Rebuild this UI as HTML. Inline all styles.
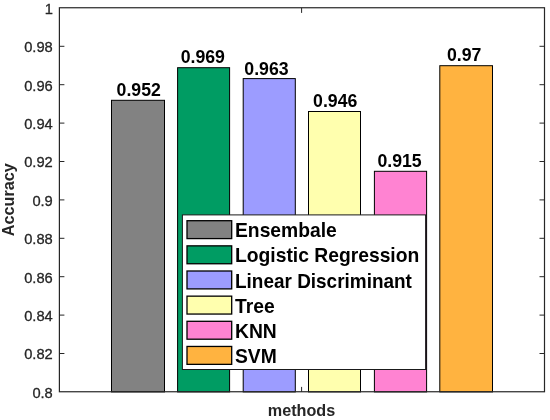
<!DOCTYPE html><html><head><meta charset="utf-8"><title>Accuracy</title>
<style>html,body{margin:0;padding:0;background:#fff}svg{display:block}text{font-family:"Liberation Sans",Arial,Helvetica,sans-serif}.tk{font-size:14.7px;fill:#262626;stroke:#262626;stroke-width:.3px}.bl{font-size:17.7px;font-weight:bold;fill:#000}.lg{font-size:19.3px;font-weight:bold;fill:#000}.ax{font-size:16.2px;font-weight:bold;fill:#262626}</style></head><body>
<svg width="550" height="420" viewBox="0 0 550 420">
<rect width="550" height="420" fill="#fff"/>
<rect x="111.5" y="100.30" width="53.0" height="291.60" fill="#828282" stroke="#000" stroke-width="1"/>
<text class="bl" x="116.6" y="95.7">0.952</text>
<rect x="177.6" y="67.70" width="52.0" height="324.20" fill="#009c63" stroke="#000" stroke-width="1"/>
<text class="bl" x="180.7" y="63.2">0.969</text>
<rect x="243.2" y="78.60" width="52.1" height="313.30" fill="#9c9cff" stroke="#000" stroke-width="1"/>
<text class="bl" x="244.3" y="74.7">0.963</text>
<rect x="308.5" y="111.50" width="52.0" height="280.40" fill="#ffffae" stroke="#000" stroke-width="1"/>
<text class="bl" x="313.1" y="107.0">0.946</text>
<rect x="374.4" y="171.30" width="52.2" height="220.60" fill="#ff83d2" stroke="#000" stroke-width="1"/>
<text class="bl" x="377.4" y="166.8">0.915</text>
<rect x="439.8" y="65.70" width="52.7" height="326.20" fill="#ffb340" stroke="#000" stroke-width="1"/>
<text class="bl" x="447.0" y="61.3">0.97</text>
<rect x="59.4" y="7.75" width="485.1" height="384" fill="none" stroke="#262626" stroke-width="1.2"/>
<text class="tk" x="52.8" y="397.8" text-anchor="end">0.8</text>
<path d="M59.4 353.50h5M544.5 353.50h-5" stroke="#262626" stroke-width="1" fill="none"/>
<text class="tk" x="52.8" y="359.4" text-anchor="end">0.82</text>
<path d="M59.4 315.10h5M544.5 315.10h-5" stroke="#262626" stroke-width="1" fill="none"/>
<text class="tk" x="52.8" y="321.0" text-anchor="end">0.84</text>
<path d="M59.4 276.70h5M544.5 276.70h-5" stroke="#262626" stroke-width="1" fill="none"/>
<text class="tk" x="52.8" y="282.6" text-anchor="end">0.86</text>
<path d="M59.4 238.30h5M544.5 238.30h-5" stroke="#262626" stroke-width="1" fill="none"/>
<text class="tk" x="52.8" y="244.2" text-anchor="end">0.88</text>
<path d="M59.4 199.90h5M544.5 199.90h-5" stroke="#262626" stroke-width="1" fill="none"/>
<text class="tk" x="52.8" y="205.8" text-anchor="end">0.9</text>
<path d="M59.4 161.50h5M544.5 161.50h-5" stroke="#262626" stroke-width="1" fill="none"/>
<text class="tk" x="52.8" y="167.4" text-anchor="end">0.92</text>
<path d="M59.4 123.10h5M544.5 123.10h-5" stroke="#262626" stroke-width="1" fill="none"/>
<text class="tk" x="52.8" y="129.0" text-anchor="end">0.94</text>
<path d="M59.4 84.70h5M544.5 84.70h-5" stroke="#262626" stroke-width="1" fill="none"/>
<text class="tk" x="52.8" y="90.6" text-anchor="end">0.96</text>
<path d="M59.4 46.30h5M544.5 46.30h-5" stroke="#262626" stroke-width="1" fill="none"/>
<text class="tk" x="52.8" y="52.2" text-anchor="end">0.98</text>
<text class="tk" x="52.8" y="13.8" text-anchor="end">1</text>
<path d="M301.6 391.9v-5M301.6 7.9v5" stroke="#262626" stroke-width="1" fill="none"/>
<text class="ax" x="301.5" y="416" text-anchor="middle">methods</text>
<text class="ax" transform="translate(13.8 199.7) rotate(-90)" text-anchor="middle">Accuracy</text>
<rect x="182.4" y="214.9" width="243.2" height="154.6" fill="#fff" stroke="#1a1a1a" stroke-width="1"/>
<rect x="187" y="220.70" width="44.7" height="17.9" fill="#828282" stroke="#000" stroke-width="1.3"/>
<text class="lg" x="235" y="237.0">Ensembale</text>
<rect x="187" y="245.85" width="44.7" height="17.9" fill="#009c63" stroke="#000" stroke-width="1.3"/>
<text class="lg" x="235" y="262.2">Logistic Regression</text>
<rect x="187" y="271.00" width="44.7" height="17.9" fill="#9c9cff" stroke="#000" stroke-width="1.3"/>
<text class="lg" x="235" y="287.5" textLength="176.9" lengthAdjust="spacingAndGlyphs">Linear Discriminant</text>
<rect x="187" y="296.15" width="44.7" height="17.9" fill="#ffffae" stroke="#000" stroke-width="1.3"/>
<text class="lg" x="235" y="312.7">Tree</text>
<rect x="187" y="321.30" width="44.7" height="17.9" fill="#ff83d2" stroke="#000" stroke-width="1.3"/>
<text class="lg" x="235" y="338.0">KNN</text>
<rect x="187" y="346.45" width="44.7" height="17.9" fill="#ffb340" stroke="#000" stroke-width="1.3"/>
<text class="lg" x="235" y="363.2">SVM</text>
</svg></body></html>
